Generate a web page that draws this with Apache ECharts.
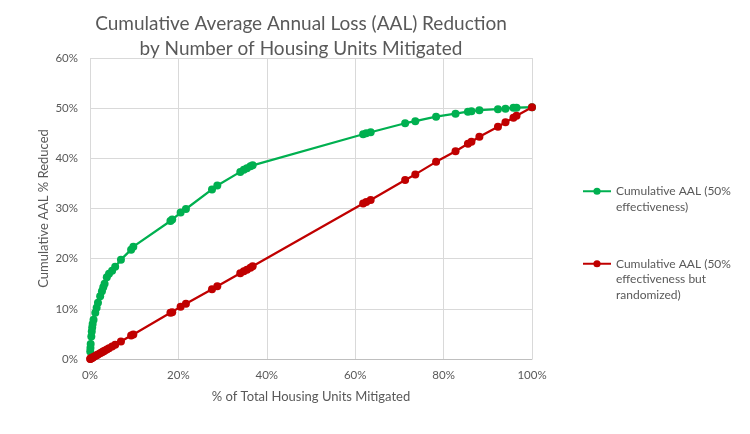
<!DOCTYPE html>
<html>
<head>
<meta charset="utf-8">
<script src="https://cdn.jsdelivr.net/npm/echarts@6/dist/echarts.min.js"></script>
<style>
  html, body { margin: 0; padding: 0; background: #fff; }
  #chart { width: 750px; height: 434px; }
</style>
</head>
<body>
<div id="chart"></div>
<script>
// % of total housing units mitigated (shared by both series)
const unitsPct = [
  0.05, 0.1, 0.15, 0.3, 0.4, 0.5, 0.6, 0.8, 1.2, 1.5, 1.8, 2.3, 2.7, 3.0, 3.3, 3.8,
  4.3, 5.0, 5.7, 7.0, 9.3, 9.8, 18.2, 18.6, 20.5, 21.7, 27.6, 28.8, 34.0, 34.8,
  35.5, 36.3, 36.8, 61.8, 62.5, 63.5, 71.3, 73.6, 78.3, 82.7, 85.5, 86.3, 88.1,
  92.3, 94.0, 95.8, 96.5, 100
];
// cumulative AAL % reduced, 50% effectiveness (sorted)
const aalSorted = [
  1.5, 2.2, 3.0, 4.5, 5.5, 6.3, 7.0, 7.8, 9.2, 10.2, 11.2, 12.5, 13.5, 14.3, 15.0, 16.3,
  17.0, 17.6, 18.4, 19.8, 21.8, 22.4, 27.5, 27.8, 29.2, 29.9, 33.8, 34.6, 37.3, 37.7,
  38.0, 38.4, 38.6, 44.8, 45.0, 45.2, 47.0, 47.4, 48.3, 48.9, 49.3, 49.4, 49.6,
  49.8, 49.9, 50.1, 50.1, 50.2
];
// cumulative AAL % reduced, 50% effectiveness, randomized order
const aalRandom = [
  0.0, 0.05, 0.1, 0.15, 0.2, 0.25, 0.3, 0.4, 0.6, 0.75, 0.9, 1.15, 1.35, 1.5, 1.65, 1.9,
  2.15, 2.5, 2.85, 3.5, 4.7, 4.9, 9.2, 9.3, 10.4, 11.0, 13.9, 14.5, 17.1, 17.5,
  17.8, 18.2, 18.5, 31.0, 31.3, 31.7, 35.7, 36.8, 39.3, 41.4, 42.9, 43.3, 44.3,
  46.3, 47.2, 48.1, 48.5, 50.2
];

const nameSorted = 'Cumulative AAL (50%\neffectiveness)';
const nameRandom = 'Cumulative AAL (50%\neffectiveness but\nrandomized)';

const fontFamily = 'Lato, "Open Sans", sans-serif';
const gray = '#595959';

const pairs = (ys) => unitsPct.map((x, i) => [x, ys[i]]);

const chart = echarts.init(document.getElementById('chart'), null, { renderer: 'canvas' });

const legendText = { color: gray, fontSize: 12, lineHeight: 15.5, fontFamily };

// blank lines on top keep the icon level with the first text line
const legendItem = (name, top) => ({
  left: 582, top: top, padding: 0,
  itemWidth: 28, itemHeight: 9,
  data: [name],
  textStyle: legendText,
  formatter: (n) => {
    const lines = n.split('\n').length;
    return ' \n'.repeat(lines - 1) + n;
  }
});

chart.setOption({
  backgroundColor: '#ffffff',
  animation: false,
  title: {
    text: 'Cumulative Average Annual Loss (AAL) Reduction\nby Number of Housing Units Mitigated',
    left: 296,
    top: 6,
    textAlign: 'center',
    textStyle: { color: gray, fontSize: 19, fontWeight: 'normal', lineHeight: 25, fontFamily }
  },
  legend: [
    legendItem(nameSorted, 168),
    legendItem(nameRandom, 225)
  ],
  grid: { left: 90, right: 218, top: 58, bottom: 75 },
  xAxis: {
    type: 'value',
    min: 0, max: 100, interval: 20,
    name: '% of Total Housing Units Mitigated',
    nameLocation: 'middle',
    nameGap: 31,
    nameMoveOverlap: false,
    nameTextStyle: { color: gray, fontSize: 13, fontFamily },
    axisLine: { show: true, lineStyle: { color: '#bfbfbf', width: 1 } },
    axisTick: { show: false },
    axisLabel: { color: gray, fontSize: 11.5, margin: 10, formatter: '{value}%', fontFamily },
    splitLine: { show: true, lineStyle: { color: '#d9d9d9', width: 1 } }
  },
  yAxis: {
    type: 'value',
    min: 0, max: 60, interval: 10,
    name: 'Cumulative AAL % Reduced',
    nameLocation: 'middle',
    nameGap: 40,
    nameMoveOverlap: false,
    nameTextStyle: { color: gray, fontSize: 13, fontFamily },
    axisLine: { show: false },
    axisTick: { show: false },
    axisLabel: { color: gray, fontSize: 11.5, margin: 12, formatter: '{value}%', fontFamily },
    splitLine: { show: true, lineStyle: { color: '#d9d9d9', width: 1 } }
  },
  series: [
    {
      name: nameSorted,
      type: 'line',
      data: pairs(aalSorted),
      symbol: 'circle',
      symbolSize: 8,
      showAllSymbol: true,
      color: '#00b050',
      lineStyle: { width: 2.25, color: '#00b050' },
      itemStyle: { color: '#00b050' },
      z: 2
    },
    {
      name: nameRandom,
      type: 'line',
      data: pairs(aalRandom),
      symbol: 'circle',
      symbolSize: 8,
      showAllSymbol: true,
      color: '#c00000',
      lineStyle: { width: 2.25, color: '#c00000' },
      itemStyle: { color: '#c00000' },
      z: 3
    }
  ]
});
</script>
</body>
</html>
